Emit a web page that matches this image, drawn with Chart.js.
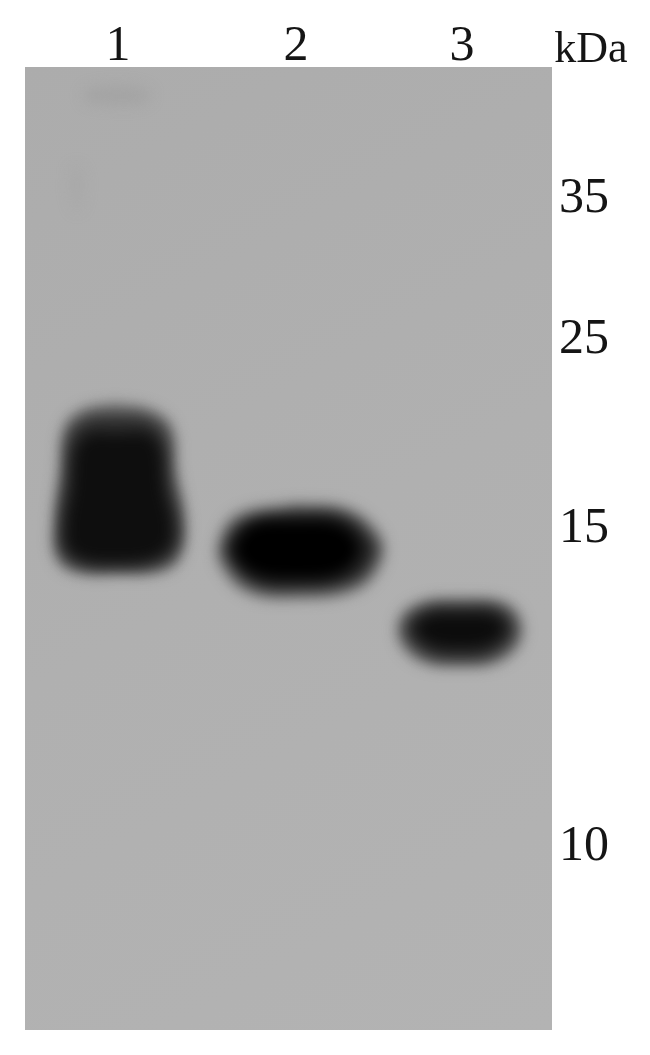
<!DOCTYPE html>
<html><head><meta charset="utf-8">
<style>html,body{margin:0;padding:0;background:#fff}#w{width:650px;height:1055px}</style>
<script src="https://cdn.jsdelivr.net/npm/chart.js@4"></script></head>
<body><div id="w"><canvas id="c"></canvas></div>
<script>
const laneLabels = ['1','2','3','kDa'];
const lanePositions = [93, 271, 437, 566];
const kdaLabels = ['35','25','15','10'];
const kdaPositions = [132, 273, 462, 780];
const blotWidth = 527;
const blotHeight = 963;

const smudgeTop = [[60,22],[90,18],[125,24],[120,36],[85,38],[60,34],[60,22]];
const smudgeSide = [[46,100],[56,100],[58,130],[52,145],[46,130],[46,100]];
const lane1Outer = [[90,336],[125,342],[147,360],[152,405],[161,455],[156,490],[137,505],[90,508],[50,506],[31,492],[28,458],[34,405],[39,360],[58,342],[90,336]];
const lane1Halo = [[90,346],[122,350],[141,365],[146,408],[155,456],[150,486],[132,499],[90,502],[54,500],[37,487],[34,458],[40,408],[45,365],[62,350],[90,346]];
const lane1Mid = [[90,354],[120,356],[136,370],[141,412],[151,458],[147,483],[128,495],[90,498],[58,496],[40,485],[37,458],[43,412],[48,370],[64,356],[90,354]];
const lane1Core = [[90,368],[122,368],[134,382],[138,422],[146,458],[142,480],[124,491],[90,494],[62,492],[45,482],[42,458],[48,422],[52,382],[66,368],[90,368]];
const lane2Outer = [[270,436],[322,441],[354,466],[358,492],[333,523],[270,532],[222,526],[196,500],[193,475],[212,447],[270,436]];
const lane2Halo = [[270,444],[318,448],[346,470],[350,489],[327,515],[270,523],[228,518],[204,495],[201,476],[219,454],[270,444]];
const lane2Core = [[270,454],[312,457],[332,474],[332,490],[312,507],[270,511],[232,507],[212,490],[212,474],[230,457],[270,454]];
const lane3Outer = [[435,531],[477,534],[495,550],[495,576],[472,596],[435,600],[398,596],[375,576],[375,550],[398,534],[435,531]];
const lane3Halo = [[435,538],[472,540],[488,554],[488,571],[467,589],[435,593],[403,589],[382,571],[382,554],[403,540],[435,538]];
const lane3Core = [[435,547],[465,548],[478,557],[478,566],[462,578],[435,581],[408,578],[392,566],[392,557],[408,548],[435,547]];

const toPts = a => a.map(p => ({x:p[0], y:p[1]}));
const layer = (a, color) => ({data: toPts(a), showLine:true, fill:'shape', backgroundColor:color,
  borderColor:'transparent', borderWidth:0, pointRadius:0, tension:0.4});

const blot = {
  id:'blot',
  beforeDraw(ch){
    const {ctx, chartArea:a} = ch;
    const g = ctx.createLinearGradient(a.left, a.top, a.right, a.bottom);
    g.addColorStop(0,'#acacac'); g.addColorStop(0.5,'#b0b0b0'); g.addColorStop(1,'#b3b3b3');
    ctx.save(); ctx.fillStyle = g; ctx.fillRect(a.left,a.top,a.width,a.height); ctx.restore();
  },
  beforeDatasetsDraw(ch){ ch.ctx.save(); ch.ctx.filter='blur(7px)'; },
  afterDatasetsDraw(ch){ ch.ctx.restore(); }
};

new Chart(document.getElementById('c'), {
  type:'scatter',
  data:{datasets:[
    layer(lane3Core,'#0c0c0c'), layer(lane3Halo,'#2c2c2c'), layer(lane3Outer,'rgba(90,90,90,0.8)'),
    layer(lane2Core,'#000000'), layer(lane2Halo,'#222222'), layer(lane2Outer,'rgba(90,90,90,0.8)'),
    layer(lane1Core,'#0e0e0e'), layer(lane1Mid,'#282828'), layer(lane1Halo,'#444444'), layer(lane1Outer,'rgba(90,90,90,0.8)'),
    layer(smudgeTop,'rgba(150,150,150,0.35)'),
    layer(smudgeSide,'rgba(160,160,160,0.3)')
  ]},
  plugins:[blot],
  options:{
    responsive:true, maintainAspectRatio:false, animation:false,
    layout:{padding:{left:25,bottom:25,top:0,right:0}},
    plugins:{legend:{display:false},tooltip:{enabled:false},title:{display:false}},
    scales:{
      x:{type:'linear',position:'top',min:0,max:blotWidth,
        grid:{display:false,drawTicks:false},border:{display:false},
        afterFit(s){s.height=67;s.paddingLeft=0;s.paddingRight=0;},
        afterBuildTicks(s){s.ticks=lanePositions.map(v=>({value:v}));},
        ticks:{autoSkip:false,maxRotation:0,minRotation:0,padding:-10,color:'#151515',
          font:c=>({family:'"Liberation Serif"',size:c.index===3?44:50}),
          callback:(v,i)=>laneLabels[i]}},
      y:{type:'linear',position:'right',reverse:true,min:0,max:blotHeight,
        grid:{display:false,drawTicks:false},border:{display:false},
        afterFit(s){s.width=98;s.paddingTop=0;s.paddingBottom=0;},
        afterBuildTicks(s){s.ticks=kdaPositions.map(v=>({value:v}));},
        ticks:{autoSkip:false,padding:7,color:'#151515',
          font:{family:'"Liberation Serif"',size:50},
          callback:(v,i)=>kdaLabels[i]}}
    }
  }
});
</script></body></html>
